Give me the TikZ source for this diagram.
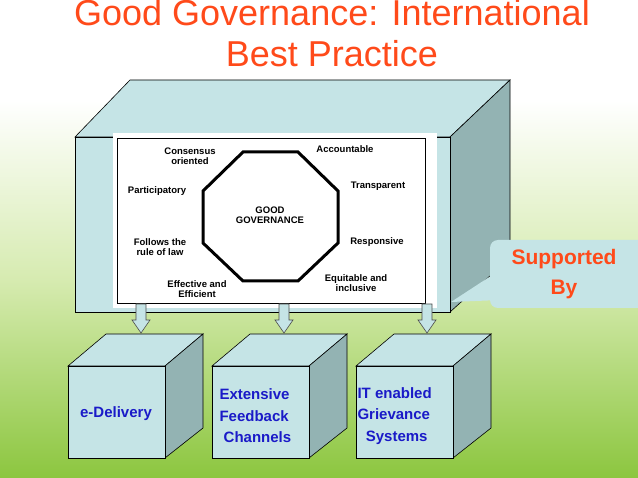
\documentclass[tikz,border=0pt]{standalone}
\usepackage{fontspec}
\setmainfont{Liberation Sans}
\definecolor{face}{HTML}{C5E4E6}
\definecolor{side}{HTML}{93B3B3}
\definecolor{ttl}{HTML}{FF4A1A}
\definecolor{blu}{HTML}{1A1AC8}
\definecolor{gbot}{HTML}{8CC63F}
\definecolor{gmid}{HTML}{D6EBB0}
\begin{document}
\begin{tikzpicture}[x=1pt,y=-1pt,
  lbl/.style={font=\bfseries\fontsize{9.5}{10.5}\selectfont,align=center},
  btxt/.style={font=\bfseries\fontsize{15}{21.5}\selectfont,text=blu,align=left},
  arr/.style={draw=black!70,fill=face,line width=0.6pt}]
\useasboundingbox (0,0) rectangle (638,478);
\fill[white] (0,0) rectangle (638,478);
\shade[top color=white,bottom color=gmid] (0,100) rectangle (638,280);
\shade[top color=gmid,bottom color=gbot] (0,280) rectangle (638,478);
% title
\node[text=ttl,font=\fontsize{36}{41}\selectfont,align=center] (title) at (332,33) {Good Governance: International\\Best Practice};
% big box
\draw[fill=face,line width=0.6pt] (75,137) -- (130,80) -- (510,80) -- (450,137) -- cycle;
\draw[fill=side,line width=0.6pt] (450,137) -- (510,80) -- (510,258) -- (450,312) -- cycle;
\draw[fill=face,line width=0.6pt] (75,137) rectangle (450,312);
\fill[white] (113,133) rectangle (437,308);
\draw[line width=0.6pt] (117,138) rectangle (425,303);
% octagon
\draw[line width=3pt,line join=miter] (243,152) -- (298,152) -- (338,191) -- (338,243) -- (298,281) -- (243,281) -- (203,243) -- (203,191) -- cycle;
\node[lbl] (gg) at (270,215) {GOOD\\GOVERNANCE};
\node[lbl] (l1) at (190,156) {Consensus\\oriented};
\node[lbl] (l2) at (345,149) {Accountable};
\node[lbl] (l3) at (157,191) {Participatory};
\node[lbl] (l4) at (378,186) {Transparent};
\node[lbl] (l5) at (160,247) {Follows the\\rule of law};
\node[lbl] (l6) at (377,242) {Responsive};
\node[lbl] (l7) at (197,289) {Effective and\\Efficient};
\node[lbl] (l8) at (356,283) {Equitable and\\inclusive};
% arrows
\foreach \x in {141,284,427}{
  \draw[arr] (\x-5,304) -- (\x+5,304) -- (\x+5,320) -- (\x+9,320) -- (\x,333) -- (\x-9,320) -- (\x-5,320) -- cycle;}
% bottom boxes
\foreach \x/\n in {68/b1,212/b2,356/b3}{
  \draw[fill=face,line width=0.6pt] (\x,366) -- (\x+38,334) -- (\x+135,334) -- (\x+97,366) -- cycle;
  \draw[fill=side,line width=0.6pt] (\x+97,366) -- (\x+135,334) -- (\x+135,428) -- (\x+97,458) -- cycle;
  \draw[fill=face,line width=0.6pt] (\x,366) rectangle (\x+97,458);
  \coordinate (\n) at (\x,366);}
\node[btxt] (t1) at (116,414) {e-Delivery};
\node[btxt,anchor=west] (t2) at (216,416) {Extensive\\Feedback\\\ Channels};
\node[btxt,anchor=west] (t3) at (354,416) {IT enabled\\Grievance\\\ \ Systems};
% callout
\fill[face] (451,302) -- (500,270) -- (500,300) -- cycle;
\fill[face,rounded corners=8pt] (490,240) rectangle (650,308);
\node[text=ttl,font=\bfseries\fontsize{21}{30}\selectfont,align=center] (sb) at (564,274) {Supported\\By};
\end{tikzpicture}
\end{document}
